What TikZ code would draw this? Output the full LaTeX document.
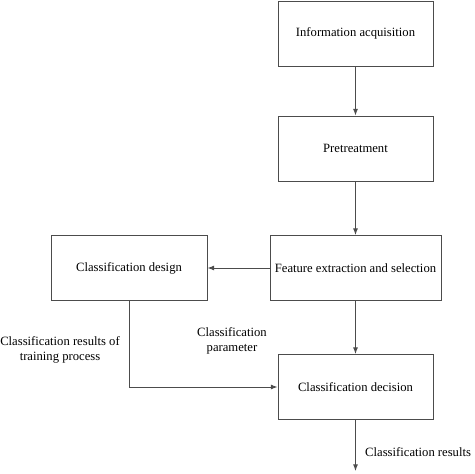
\documentclass[tikz,border=0pt]{standalone}
\usepackage{fontspec}
\setmainfont{Liberation Serif}
\usetikzlibrary{arrows.meta, positioning, calc}
\tikzset{
  stagebox/.style={
    draw=black!70, thick, align=center, fill=white,
    font=\fontsize{10.8}{12.5}\selectfont, minimum height=1.95cm,
    minimum width=4.65cm, inner sep=2pt
  },
  stageboxwide/.style={
    stagebox, minimum width=5.13cm
  },
  flowarrow/.style={
    -{Latex[length=2mm, width=1.5mm]}, thick, color=black!70
  },
  flowlabel/.style={
    font=\fontsize{10.8}{12.5}\selectfont, align=center
  },
}
\begin{document}
\begin{tikzpicture}[x=0.03cm, y=-0.03cm]
  \useasboundingbox (0,0) rectangle (474,474);

  % ---- MAIN CHAIN ----
  \node[stagebox] (acq) at (355.5, 33.5) {Information acquisition};
  \node[stagebox] (pre) at (355.5, 148.5) {Pretreatment};
  \node[stageboxwide] (feat) at (355.5, 268) {Feature extraction and selection};
  \node[stagebox] (dec) at (355.5, 387) {Classification decision};

  % ---- TRAINING BRANCH ----
  \node[stagebox, minimum width=4.68cm] (design) at (129, 268) {Classification design};

  \draw[flowarrow] (acq) -- (pre);
  \draw[flowarrow] (pre) -- (feat);
  \draw[flowarrow] (feat) -- (design);
  \draw[flowarrow] (feat) -- (dec);
  \draw[flowarrow] (design.south) |- (dec.west);

  % Output
  \coordinate (out) at (355.5, 471);
  \draw[flowarrow] (dec) -- (out);

  % Labels
  \node[flowlabel] (trainlbl) at (60, 350)
    {Classification results of\\training process};
  \node[flowlabel] (paramlbl) at (232, 341)
    {Classification\\parameter};
  \node[flowlabel, anchor=west, inner xsep=0pt] (outlbl) at (365, 452)
    {Classification results};
\end{tikzpicture}
\end{document}
